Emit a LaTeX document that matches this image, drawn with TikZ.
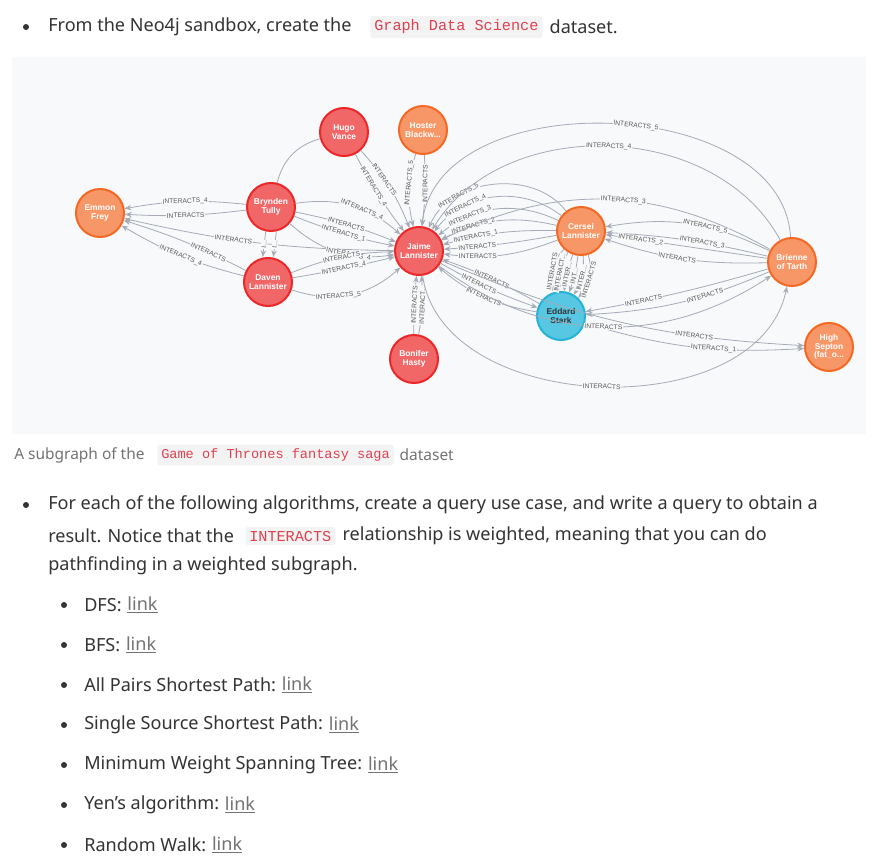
\documentclass[tikz,border=0pt]{standalone}
\usepackage{fontspec}
\setmainfont{Noto Sans}
\setmonofont{Liberation Mono}
\newfontfamily\gfont{Liberation Sans}
\usetikzlibrary{arrows.meta}
\newcommand\mydots{...}
\definecolor{txt}{HTML}{333333}
\definecolor{panel}{HTML}{F8F9FB}
\definecolor{redf}{HTML}{F16667}\definecolor{redb}{HTML}{EB2728}
\definecolor{orf}{HTML}{F79767}\definecolor{orb}{HTML}{F36924}
\definecolor{blf}{HTML}{57C7E3}\definecolor{blb}{HTML}{23B3D7}
\definecolor{edge}{HTML}{A5ABB6}
\definecolor{codered}{HTML}{E0404F}
\definecolor{codebg}{HTML}{F3F3F3}
\tikzset{
 x=0.75pt,y=-0.75pt,
 gn/.style={circle,minimum size=36pt,inner sep=0pt,line width=1.5pt,align=center,font=\gfont\bfseries\fontsize{6.3}{6.5}\selectfont,text=white},
 rn/.style={gn,fill=redf,draw=redb},
 on/.style={gn,fill=orf,draw=orb},
 bn/.style={gn,fill=blf,draw=blb,text=txt},
 rel/.style={draw=edge,line width=0.6pt,-{Stealth[length=5pt,width=4pt]}},
 lb/.style={sloped,fill=panel,inner sep=0.6pt,font=\gfont\fontsize{5}{5}\selectfont,text=black!65},
 body/.style={anchor=west,text=txt,font=\fontsize{13.55}{16}\selectfont,inner sep=0pt},
 code/.style={anchor=west,text=codered,fill=codebg,rounded corners=2pt,inner xsep=3pt,inner ysep=3pt,font=\ttfamily\fontsize{11.4}{12}\selectfont},
 lnk/.style={anchor=west,text=black!55,inner sep=0pt,font=\fontsize{13.55}{16}\selectfont},
 bul/.style={circle,fill=txt,inner sep=0pt,minimum size=4.5pt},
}
\begin{document}
\begin{tikzpicture}
\useasboundingbox[fill=white] (0,0) rectangle (894,867);
% first bullet
\node[bul] (b1) at (26,27) {};
\node[body] (t1) at (48,27) {From the Neo4j sandbox, create the};
\node[code] (c1) at (370,27) {Graph Data Science};
\node[body] (t1b) at ([xshift=5pt]c1.east) {dataset.};
% panel
\fill[panel] (12,57) rectangle (866,434);
% nodes
\node[rn] (hugo) at (344,132) {Hugo\\Vance};
\node[on] (hoster) at (423,130) {Hoster\\Blackw\mydots};
\node[on] (emmon) at (100,213) {Emmon\\Frey};
\node[rn] (bryn) at (271,207) {Brynden\\Tully};
\node[rn] (jaime) at (419,251) {Jaime\\Lannister};
\node[on] (cersei) at (581,231) {Cersei\\Lannister};
\node[on] (brienne) at (792,262) {Brienne\\of Tarth};
\node[rn] (daven) at (268,282) {Daven\\Lannister};
\node[bn] (eddard) at (561,316) {Eddard\\Stark};
\node[rn] (bonifer) at (414,359) {Bonifer\\Hasty};
\node[on] (septon) at (829,347) {High\\Septon\\(fat\_o\mydots};
% edges
\draw[rel] (bryn) to[bend right=8] node[lb]{INTERACTS\_4} (emmon);
\draw[rel] (bryn) to[bend left=5] node[lb]{INTERACTS} (emmon);
\draw[rel] (daven) to[bend right=5] node[lb,pos=0.3]{INTERACTS} (emmon);
\draw[rel] (daven) to[bend left=8] node[lb]{INTERACTS\_4} (emmon);
\draw[rel] (jaime) to[bend left=6] node[lb,pos=0.6]{INTERACTS} (emmon);
\draw[rel] ([xshift=-4]bryn.south) -- node[lb]{I\mydots} ([xshift=-4]daven.north);
\draw[rel] ([xshift=4]bryn.south) -- node[lb]{I\mydots} ([xshift=4]daven.north);
\draw[rel] (bryn) to[bend left=25] node[lb,pos=0.6]{INTERACTS\_4} (jaime);
\draw[rel] (bryn) to[bend left=5] node[lb]{INTERACTS} (jaime);
\draw[rel] (bryn) to[bend right=5] node[lb]{INTERACTS\_1} (jaime);
\draw[rel] (bryn) to[bend right=25] node[lb,pos=0.6]{INTERACTS\_4} (jaime);
\draw[draw=edge,line width=0.6pt] (bryn) to[bend left=30] (hugo);
\draw[rel] (hugo) to[bend left=10] node[lb,pos=0.4]{INTERACTS} (jaime);
\draw[rel] (hugo) to[bend right=5] node[lb,pos=0.4]{INTERACTS\_4} (jaime);
\draw[rel] (hoster) to[bend right=15] node[lb,pos=0.4]{INTERACTS\_5} (jaime);
\draw[rel] (hoster) to[bend left=5] node[lb,pos=0.4]{INTERACTS} (jaime);
\draw[rel] (daven) to[bend left=10] node[lb]{INTERACTS} (jaime);
\draw[rel] (daven) to[bend right=2] node[lb]{INTERACTS\_4} (jaime);
\draw[rel] (daven) to[bend right=30] node[lb,pos=0.4]{INTERACTS\_5} (jaime);
\draw[rel] (bonifer) to[bend left=3] node[lb]{INTERACTS} (jaime);
\draw[rel] (bonifer) to[bend right=8] node[lb]{INTERACT\mydots} (jaime);
\draw[rel] (cersei) to[bend right=60] node[lb,pos=0.72]{INTERACTS\_5} (jaime);
\draw[rel] (cersei) to[bend right=45] node[lb,pos=0.72]{INTERACTS\_4} (jaime);
\draw[rel] (cersei) to[bend right=32] node[lb,pos=0.72]{INTERACTS\_3} (jaime);
\draw[rel] (cersei) to[bend right=20] node[lb,pos=0.72]{INTERACTS\_2} (jaime);
\draw[rel] (cersei) to[bend right=8] node[lb,pos=0.72]{INTERACTS\_1} (jaime);
\draw[rel] (cersei) to[bend left=3] node[lb,pos=0.72]{INTERACTS} (jaime);
\draw[rel] (cersei) to[bend left=14] node[lb,pos=0.72]{INTERACTS} (jaime);
\draw[rel] (brienne) to[bend right=85] node[lb,pos=0.45]{INTERACTS\_5} (jaime);
\draw[rel] (brienne) to[bend right=60] node[lb,pos=0.5]{INTERACTS\_4} (jaime);
\draw[rel] (brienne) to[bend right=28] node[lb,pos=0.45]{INTERACTS\_3} (jaime);
\draw[rel] (brienne) to[bend right=18] node[lb,pos=0.4]{INTERACTS\_5} (cersei);
\draw[rel] (brienne) to[bend right=5] node[lb,pos=0.4]{INTERACTS\_3} (cersei);
\draw[rel] (brienne) to[bend right=0] node[lb,pos=0.8]{INTERACTS\_2} (cersei);
\draw[rel] (brienne) to[bend left=10] node[lb,pos=0.55]{INTERACTS} (cersei);
\foreach \s/\l in {-30/INTERACTS,-18/INTERACT\mydots,-6/INTER\mydots,6/INT\mydots,18/INTER\mydots,30/INTERACTS} {
  \draw[rel] (cersei) to[bend left=\s] node[lb,pos=0.55]{\l} (eddard);
}
\draw[rel] (eddard) to[bend left=15] node[lb]{INTERACTS} (jaime);
\draw[rel] (eddard) to[bend right=5] node[lb]{INTERACTS} (jaime);
\draw[rel] (jaime) to[bend right=5] node[lb,pos=0.4]{INTERACTS} (eddard);
\draw[rel] (brienne) to[bend left=10] node[lb,pos=0.35]{INTERACTS} (eddard);
\draw[rel] (brienne) to[bend left=3] node[lb,pos=0.7]{INTERACTS} (eddard);
\draw[rel] (jaime) to[bend right=10] node[lb,pos=0.72]{INTERACTS} (septon);
\draw[rel] (eddard) to[bend right=10] node[lb,pos=0.6]{INTERACTS\_1} (septon);
\draw[rel] (jaime) to[bend right=35] node[lb]{INTERACTS} (brienne);
\draw[rel] (jaime) to[bend right=80] node[lb]{INTERACTS} (brienne);
% caption
\node[anchor=west,text=black!55,inner sep=0pt,font=\fontsize{11.6}{14}\selectfont] (cap) at (14,455) {A subgraph of the};
\node[code,font=\ttfamily\fontsize{10.2}{11}\selectfont] (c2) at (157,455) {Game of Thrones fantasy saga};
\node[anchor=west,text=black!55,inner sep=0pt,font=\fontsize{11.6}{14}\selectfont] (cap2) at ([xshift=4pt]c2.east) {dataset};
% second bullet
\node[bul] (b2) at (26,505) {};
\node[body] (l1) at (48,505) {For each of the following algorithms, create a query use case, and write a query to obtain a};
\node[body] (l2) at (48,536) {result. Notice that the};
\node[code] (c3) at (245,536) {INTERACTS};
\node[body] (l2b) at ([xshift=5pt]c3.east) {relationship is weighted, meaning that you can do};
\node[body] (l3) at (48,566) {pathfinding in a weighted subgraph.};
\foreach \y/\t [count=\i] in {605/DFS:,645/BFS:,685/All Pairs Shortest Path:,725/Single Source Shortest Path:,765/Minimum Weight Spanning Tree:,805/Yen’s algorithm:,845/Random Walk:} {
  \node[bul] (sb\i) at (64,\y) {};
  \node[body] (st\i) at (84,\y) {\t};
  \node[lnk] (lk\i) at ([xshift=4pt]st\i.east) {\underline{link}};
}
\end{tikzpicture}
\end{document}
